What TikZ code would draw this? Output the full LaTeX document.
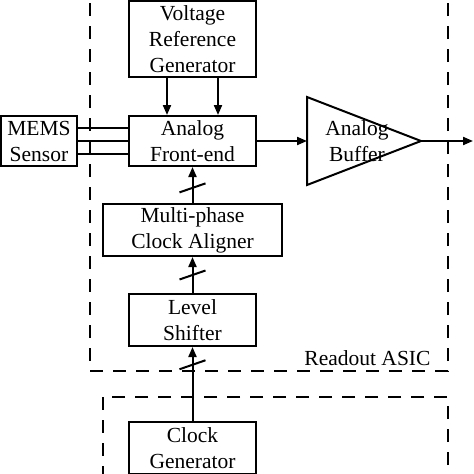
\documentclass[tikz,border=0pt]{standalone}
\usepackage{fontspec}
\setmainfont{Liberation Serif}
\usetikzlibrary{arrows.meta,positioning}

\tikzset{
  blk/.style={draw, line width=2pt, minimum width=127pt, minimum height=52pt,
    inner sep=0pt, align=center, font=\fontsize{21.5}{26}\selectfont},
  sig/.style={line width=2pt, -{Triangle[length=10pt,width=8pt]}},
  wire/.style={line width=2pt},
  slashmark/.style={line width=2pt},
  asicbox/.style={line width=2pt, dash pattern=on 13pt off 10pt}
}

\begin{document}
\begin{tikzpicture}[x=1pt, y=-1pt]
\useasboundingbox (0,0) rectangle (474,474);
\clip (0,0) rectangle (474,474);
% blocks
\node[blk, minimum height=76pt] (vrg) at (192.5,39) {Voltage\\Reference\\Generator};
\node[blk, minimum height=50pt] (afe) at (192.5,141) {Analog\\Front-end};
\node[blk, minimum width=76pt, minimum height=50pt] (mems) at (39,141) {MEMS\\Sensor};
\node[blk, minimum width=179pt] (mpca) at (192.5,230) {Multi-phase\\Clock Aligner};
\node[blk] (ls) at (192.5,320) {Level\\Shifter};
\node[blk] (cg) at (192.5,448) {Clock\\Generator};
% analog buffer
\coordinate (bufin) at (307,141);
\coordinate (buftip) at (421,141);
\draw[wire] (307,97) -- (buftip) -- (307,185) -- cycle;
\node[font=\fontsize{21.5}{26}\selectfont, align=center] (buf) at (357,141) {Analog\\Buffer};
\coordinate (out) at (474,141);
% dashed regions
\draw[asicbox] (90,-20) rectangle (448,371);
\node[font=\fontsize{21.5}{26}\selectfont, anchor=east] (asic) at (434,358) {Readout ASIC};
\draw[asicbox] (103,397) rectangle (448,500);
% connections
\draw[sig] ([xshift=-25.5pt]vrg.south) -- ([xshift=-25.5pt]afe.north);
\draw[sig] ([xshift=25.5pt]vrg.south) -- ([xshift=25.5pt]afe.north);
\foreach \dy in {13,0,-13}
  \draw[wire] ([yshift=\dy pt]mems.east) -- ([yshift=\dy pt]afe.west);
\draw[sig] (afe.east) -- (bufin);
\draw[sig] (buftip) -- ([xshift=-1pt]out);
\draw[sig] (mpca.north) -- coordinate[pos=0.42] (s1) (afe.south);
\draw[sig] (ls.north) -- coordinate[pos=0.5] (s2) (mpca.south);
\draw[sig] (cg.north) -- coordinate[pos=0.76] (s3) (ls.south);
% bus marks
\foreach \s in {s1,s2,s3}
  \draw[slashmark] (\s) ++(-13,4.5) -- ++(26,-9);
\end{tikzpicture}
\end{document}
